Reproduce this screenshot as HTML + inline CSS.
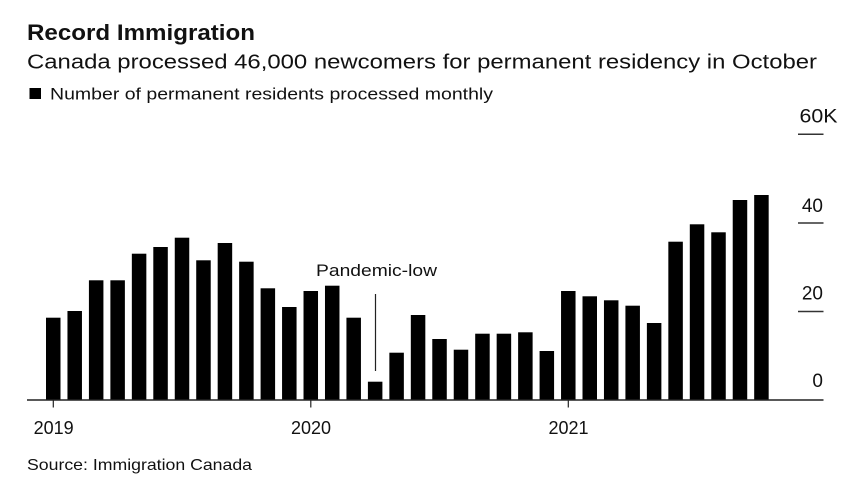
<!DOCTYPE html>
<html>
<head>
<meta charset="utf-8">
<style>
  html,body{margin:0;padding:0;background:#fff;}
  svg{display:block;}
  text{font-family:"Liberation Sans", Arial, sans-serif;fill:#111;}
</style>
</head>
<body>
<svg width="858" height="494" viewBox="0 0 858 494" xmlns="http://www.w3.org/2000/svg">
  <rect x="0" y="0" width="858" height="494" fill="#fff"/>
  <!-- Header -->
  <text x="27" y="40" font-size="22" font-weight="bold" textLength="228" lengthAdjust="spacingAndGlyphs">Record Immigration</text>
  <text x="27" y="68.3" font-size="20.5" textLength="790" lengthAdjust="spacingAndGlyphs">Canada processed 46,000 newcomers for permanent residency in October</text>
  <rect x="29.5" y="88" width="11.5" height="11" fill="#000"/>
  <text x="50" y="99.3" font-size="17" textLength="443" lengthAdjust="spacingAndGlyphs">Number of permanent residents processed monthly</text>

  <!-- Y axis ticks/labels -->
  <g stroke="#333" stroke-width="1.5">
    <line x1="798" y1="134.3" x2="823.5" y2="134.3"/>
    <line x1="798" y1="223" x2="823.5" y2="223"/>
    <line x1="798" y1="311.5" x2="823.5" y2="311.5"/>
  </g>
  <text x="799.5" y="122.7" font-size="19" textLength="38" lengthAdjust="spacingAndGlyphs">60K</text>
  <text x="823" y="212" font-size="19" text-anchor="end">40</text>
  <text x="823" y="299.5" font-size="19" text-anchor="end">20</text>
  <text x="823" y="387" font-size="19" text-anchor="end">0</text>

  <!-- Bars -->
  <g fill="#000">
    <rect x="46.00" y="317.7" width="14.5" height="82.3"/>
    <rect x="67.46" y="311.0" width="14.5" height="89.0"/>
    <rect x="88.92" y="280.3" width="14.5" height="119.7"/>
    <rect x="110.38" y="280.3" width="14.5" height="119.7"/>
    <rect x="131.84" y="253.7" width="14.5" height="146.3"/>
    <rect x="153.30" y="247.0" width="14.5" height="153.0"/>
    <rect x="174.76" y="237.7" width="14.5" height="162.3"/>
    <rect x="196.22" y="260.3" width="14.5" height="139.7"/>
    <rect x="217.68" y="243.0" width="14.5" height="157.0"/>
    <rect x="239.14" y="261.7" width="14.5" height="138.3"/>
    <rect x="260.60" y="288.3" width="14.5" height="111.7"/>
    <rect x="282.06" y="307.0" width="14.5" height="93.0"/>
    <rect x="303.52" y="291.0" width="14.5" height="109.0"/>
    <rect x="324.98" y="285.7" width="14.5" height="114.3"/>
    <rect x="346.44" y="317.7" width="14.5" height="82.3"/>
    <rect x="367.90" y="381.7" width="14.5" height="18.3"/>
    <rect x="389.36" y="352.7" width="14.5" height="47.3"/>
    <rect x="410.82" y="315.0" width="14.5" height="85.0"/>
    <rect x="432.28" y="339.0" width="14.5" height="61.0"/>
    <rect x="453.74" y="349.7" width="14.5" height="50.3"/>
    <rect x="475.20" y="333.7" width="14.5" height="66.3"/>
    <rect x="496.66" y="333.7" width="14.5" height="66.3"/>
    <rect x="518.12" y="332.3" width="14.5" height="67.7"/>
    <rect x="539.58" y="351.0" width="14.5" height="49.0"/>
    <rect x="561.04" y="291.0" width="14.5" height="109.0"/>
    <rect x="582.50" y="296.3" width="14.5" height="103.7"/>
    <rect x="603.96" y="300.3" width="14.5" height="99.7"/>
    <rect x="625.42" y="305.7" width="14.5" height="94.3"/>
    <rect x="646.88" y="323.0" width="14.5" height="77.0"/>
    <rect x="668.34" y="241.7" width="14.5" height="158.3"/>
    <rect x="689.80" y="224.3" width="14.5" height="175.7"/>
    <rect x="711.26" y="232.3" width="14.5" height="167.7"/>
    <rect x="732.72" y="200.0" width="14.5" height="200.0"/>
    <rect x="754.18" y="195.0" width="14.5" height="205.0"/>
  </g>

  <!-- X axis -->
  <line x1="27" y1="400" x2="823.5" y2="400" stroke="#222" stroke-width="1.5"/>
  <g stroke="#222" stroke-width="1.2">
    <line x1="53.3" y1="400" x2="53.3" y2="407.5"/>
    <line x1="310.8" y1="400" x2="310.8" y2="407.5"/>
    <line x1="568.3" y1="400" x2="568.3" y2="407.5"/>
  </g>
  <text x="53.6" y="434" font-size="18" text-anchor="middle">2019</text>
  <text x="311" y="434" font-size="18" text-anchor="middle">2020</text>
  <text x="568.5" y="434" font-size="18" text-anchor="middle">2021</text>

  <!-- Annotation -->
  <text x="316" y="276" font-size="17" textLength="121" lengthAdjust="spacingAndGlyphs">Pandemic-low</text>
  <line x1="375.5" y1="294" x2="375.5" y2="371" stroke="#222" stroke-width="1.2"/>

  <!-- Source -->
  <text x="27" y="470" font-size="16" textLength="225" lengthAdjust="spacingAndGlyphs">Source: Immigration Canada</text>
</svg>
</body>
</html>
